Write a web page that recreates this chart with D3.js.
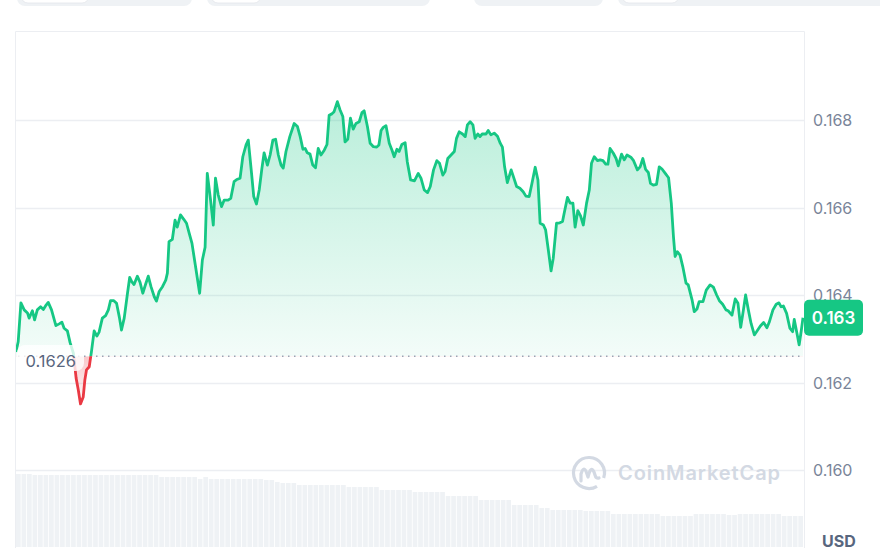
<!DOCTYPE html>
<html>
<head>
    <title>Price chart</title>
    <style>
        html, body {
            margin: 0;
            padding: 0;
            background: #ffffff;
        }
        svg text {
            font-family: Inter, "Noto Sans", sans-serif;
        }
        .y-label {
            font-size: 16px;
            fill: #7a8599;
        }
    </style>
    <script src="https://d3js.org/d3.v7.min.js"></script>
</head>
<body>
    <svg id="chart" width="880" height="557"></svg>
<script>
// minutes since start of the 24h window
const times = [0,4,9,15,21,24,30,34,39,45,50,54,59,65,73,79,84,88,94,99,105,110,114,118,123,126,129,134,138,143,
    148,152,158,164,169,173,179,184,189,193,198,204,208,212,216,222,227,232,237,242,247,253,257,262,268,274,277,280,286,291,
    295,301,307,312,317,322,329,336,341,346,350,356,361,365,370,376,381,388,393,399,404,410,415,421,425,431,435,440,445,450,
    454,460,465,470,475,480,485,489,494,501,509,515,520,525,529,533,538,543,548,553,558,564,569,573,578,582,588,593,598,602,
    607,612,617,622,628,633,637,643,648,654,660,664,668,672,677,683,688,692,697,701,706,712,716,722,729,736,741,747,753,758,
    764,770,775,781,785,790,796,802,806,811,817,822,826,831,836,840,845,849,853,860,864,869,875,881,886,890,894,899,906,911,
    916,922,928,933,939,944,950,955,959,965,969,974,979,983,989,995,1000,1003,1009,1014,1019,1023,1028,1033,1038,1044,1049,1053,1058,1064,
    1069,1074,1079,1083,1087,1093,1098,1102,1108,1113,1118,1125,1130,1137,1142,1147,1152,1157,1161,1166,1172,1177,1182,1188,1194,1199,1203,1206,1210,1215,
    1220,1226,1230,1237,1241,1246,1250,1257,1263,1270,1276,1282,1287,1293,1299,1303,1310,1316,1321,1326,1331,1335,1340,1345,1351,1355,1362,1368,1374,1378,
    1385,1391,1396,1400,1404,1410,1416,1421,1424,1429,1433,1437,1440];

const prices = [0.16270,0.16293,0.16382,0.16366,0.16359,0.16347,0.16364,0.16343,0.16366,0.16373,0.16367,0.16375,0.16383,0.16366,0.16330,0.16334,0.16338,0.16324,0.16318,0.16291,
    0.16267,0.16210,0.16183,0.16151,0.16167,0.16206,0.16229,0.16236,0.16270,0.16318,0.16306,0.16315,0.16347,0.16353,0.16366,0.16387,0.16387,0.16381,0.16350,0.16320,
    0.16347,0.16404,0.16440,0.16430,0.16424,0.16443,0.16429,0.16404,0.16424,0.16443,0.16419,0.16396,0.16386,0.16408,0.16419,0.16434,0.16450,0.16522,0.16527,0.16571,
    0.16555,0.16583,0.16573,0.16564,0.16541,0.16518,0.16461,0.16404,0.16480,0.16509,0.16678,0.16617,0.16560,0.16667,0.16629,0.16602,0.16617,0.16617,0.16621,0.16659,
    0.16664,0.16667,0.16716,0.16743,0.16754,0.16678,0.16625,0.16608,0.16640,0.16690,0.16725,0.16697,0.16720,0.16754,0.16756,0.16720,0.16697,0.16690,0.16728,0.16762,
    0.16792,0.16785,0.16762,0.16733,0.16735,0.16725,0.16722,0.16697,0.16691,0.16735,0.16720,0.16731,0.16744,0.16811,0.16814,0.16819,0.16842,0.16823,0.16808,0.16750,
    0.16756,0.16804,0.16779,0.16792,0.16796,0.16817,0.16821,0.16785,0.16747,0.16739,0.16738,0.16743,0.16776,0.16783,0.16787,0.16747,0.16731,0.16716,0.16733,0.16728,
    0.16744,0.16748,0.16704,0.16663,0.16661,0.16678,0.16667,0.16640,0.16634,0.16648,0.16686,0.16707,0.16701,0.16674,0.16682,0.16712,0.16720,0.16728,0.16758,0.16773,
    0.16768,0.16762,0.16789,0.16796,0.16789,0.16758,0.16768,0.16762,0.16768,0.16768,0.16776,0.16766,0.16770,0.16763,0.16747,0.16738,0.16693,0.16657,0.16686,0.16667,
    0.16648,0.16644,0.16636,0.16626,0.16625,0.16655,0.16692,0.16663,0.16564,0.16560,0.16549,0.16503,0.16455,0.16484,0.16564,0.16565,0.16568,0.16587,0.16623,0.16610,
    0.16610,0.16555,0.16593,0.16581,0.16560,0.16610,0.16640,0.16701,0.16716,0.16707,0.16709,0.16707,0.16699,0.16699,0.16735,0.16724,0.16712,0.16695,0.16722,0.16709,
    0.16720,0.16715,0.16707,0.16686,0.16693,0.16712,0.16687,0.16680,0.16655,0.16651,0.16653,0.16693,0.16688,0.16678,0.16668,0.16610,0.16533,0.16488,0.16499,0.16491,
    0.16465,0.16427,0.16423,0.16389,0.16362,0.16368,0.16385,0.16385,0.16411,0.16423,0.16418,0.16400,0.16387,0.16379,0.16366,0.16364,0.16354,0.16391,0.16381,0.16326,
    0.16366,0.16400,0.16366,0.16335,0.16309,0.16316,0.16329,0.16337,0.16325,0.16337,0.16366,0.16379,0.16382,0.16373,0.16375,0.16358,0.16324,0.16316,0.16344,0.16312,
    0.16286,0.16320,0.16348];

// rolling volume, one value per 10 minutes (millions)
const volumeM = [73,73,73,72,72,72,72,72,72,72,72,72,72,72,72,72,72,72,72,72,72,72,72,72,72,72,
    70,70,70,70,70,70,70,68,70,68,68,68,68,68,68,68,68,68,68,67,67,65,64,64,64,
    62,62,62,62,62,62,62,62,62,60,60,60,60,60,60,57,57,57,57,57,57,55,55,55,55,55,55,
    51,51,51,51,51,51,47,47,47,47,47,47,42,42,42,42,42,39,39,37,37,37,37,37,37,
    36,36,36,36,36,33,33,33,33,33,33,33,33,33,31,31,31,31,31,31,33,33,33,33,33,33,
    32,32,33,33,33,33,33,33,33,33,31,31,31,31];

const yTicks = [0.160, 0.162, 0.164, 0.166, 0.168];
const basePrice = 0.1626;

const svg = d3.select("#chart");
const plot = { left: 16, right: 805, top: 32, bottom: 548, lineEnd: 803 };

// top tab pills (cut off by the viewport)
const pills = [[17, 175, 21, 68], [207, 223, 211, 50], [474, 129, null, 0], [618, 280, 622, 57]];
pills.forEach(p => {
    svg.append("rect").attr("x", p[0]).attr("y", -14).attr("width", p[1]).attr("height", 20)
        .attr("rx", 8).attr("fill", "#eff2f5");
    if (p[2] !== null) {
        svg.append("rect").attr("x", p[2]).attr("y", -14).attr("width", p[3]).attr("height", 17)
            .attr("rx", 7).attr("fill", "#ffffff").attr("stroke", "#e3e6eb").attr("stroke-width", 0.8);
    }
});

const x = d3.scaleLinear().domain([0, 1440]).range([plot.left, plot.lineEnd]);
const y = d3.scaleLinear().domain([0.160, 0.168]).range([470, 120]);
const vy = d3.scaleLinear().domain([0, 100]).range([547, 447]);
const vx = d3.scaleBand().domain(volumeM.map((d, i) => i)).range([plot.left, plot.lineEnd]).paddingInner(0.15);

const baseY = y(basePrice);
const data = times.map((t, i) => ({ t: t, p: prices[i] }));

const defs = svg.append("defs");
defs.append("clipPath").attr("id", "above").append("rect")
    .attr("x", plot.left).attr("y", plot.top).attr("width", plot.right - plot.left).attr("height", baseY - plot.top);
defs.append("clipPath").attr("id", "below").append("rect")
    .attr("x", plot.left).attr("y", baseY).attr("width", plot.right - plot.left).attr("height", plot.bottom - baseY);

const gUp = defs.append("linearGradient").attr("id", "gUp").attr("gradientUnits", "userSpaceOnUse")
    .attr("x1", 0).attr("x2", 0).attr("y1", y(d3.max(prices))).attr("y2", baseY);
gUp.append("stop").attr("offset", 0).attr("stop-color", "#16c784").attr("stop-opacity", 0.3);
gUp.append("stop").attr("offset", 1).attr("stop-color", "#16c784").attr("stop-opacity", 0.05);
const gDown = defs.append("linearGradient").attr("id", "gDown").attr("gradientUnits", "userSpaceOnUse")
    .attr("x1", 0).attr("x2", 0).attr("y1", baseY).attr("y2", y(d3.min(prices)));
gDown.append("stop").attr("offset", 0).attr("stop-color", "#ea3943").attr("stop-opacity", 0.28);
gDown.append("stop").attr("offset", 1).attr("stop-color", "#ea3943").attr("stop-opacity", 0.02);

// frame
svg.append("path")
    .attr("d", `M${plot.left - 0.5},${plot.bottom} V${plot.top - 0.5} H${plot.right - 0.5} V${plot.bottom}`)
    .attr("fill", "none").attr("stroke", "#eceef2").attr("stroke-width", 1);

// grid
svg.append("g").selectAll("line").data(yTicks).join("line")
    .attr("x1", plot.left).attr("x2", plot.right - 1)
    .attr("y1", d => Math.round(y(d)) + 0.5).attr("y2", d => Math.round(y(d)) + 0.5)
    .attr("stroke", "#eceef2").attr("stroke-width", 1.3);

// volume
svg.append("g").selectAll("rect").data(volumeM).join("rect")
    .attr("x", (d, i) => vx(i)).attr("width", vx.bandwidth())
    .attr("y", d => vy(d)).attr("height", d => vy(0) - vy(d))
    .attr("fill", "#eff2f5");

// watermark
const wm = svg.append("g").attr("fill", "none").attr("stroke", "#d3d9e3");
wm.append("path").attr("d", d3.arc()({ innerRadius: 15.5, outerRadius: 15.5, startAngle: 2.6, endAngle: 2 * Math.PI + 1.9 }))
    .attr("transform", "translate(589,473)").attr("stroke-width", 3.2);
wm.append("path").attr("d", "M581,481 L581,474 Q584,464 587,474 L588,477 Q591,465 594,472 L595,475 Q596,479 599,478")
    .attr("stroke-width", 3.2).attr("stroke-linecap", "round").attr("stroke-linejoin", "round");
svg.append("text").attr("x", 618).attr("y", 480).attr("font-size", 20).attr("font-weight", 600)
    .attr("textLength", 162).attr("fill", "#d3d9e3").text("CoinMarketCap");

// areas and lines
const area = d3.area().x(d => x(d.t)).y0(baseY).y1(d => y(d.p));
const line = d3.line().x(d => x(d.t)).y(d => y(d.p));

svg.append("path").datum(data).attr("d", area).attr("fill", "url(#gUp)").attr("clip-path", "url(#above)");
svg.append("path").datum(data).attr("d", area).attr("fill", "url(#gDown)").attr("clip-path", "url(#below)");

svg.append("line").attr("x1", plot.left + 2).attr("x2", plot.right - 1)
    .attr("y1", baseY).attr("y2", baseY)
    .attr("stroke", "#9aa3b3").attr("stroke-width", 1.4).attr("stroke-dasharray", "1.5,4.5");

svg.append("path").datum(data).attr("d", line).attr("fill", "none")
    .attr("stroke", "#16c784").attr("stroke-width", 2.8).attr("stroke-linejoin", "round")
    .attr("clip-path", "url(#above)");
svg.append("path").datum(data).attr("d", line).attr("fill", "none")
    .attr("stroke", "#ea3943").attr("stroke-width", 2.8).attr("stroke-linejoin", "round")
    .attr("clip-path", "url(#below)");

// base price label
svg.append("rect").attr("x", 17).attr("y", 345).attr("width", 67).attr("height", 26).attr("rx", 8)
    .attr("fill", "#ffffff").attr("fill-opacity", 0.8);
svg.append("text").attr("x", 25.5).attr("y", 366.5).attr("font-size", 16.5).attr("fill", "#58667e")
    .text(d3.format(".4f")(basePrice));

// y axis labels
svg.append("g").selectAll("text").data(yTicks).join("text")
    .attr("class", "y-label").attr("x", 813).attr("y", d => y(d) + 6)
    .text(d => d3.format(".3f")(d));

// current price tag
const last = prices[prices.length - 1];
svg.append("rect").attr("x", 804).attr("y", y(last) - 18).attr("width", 59).attr("height", 36).attr("rx", 5)
    .attr("fill", "#16c784");
svg.append("text").attr("x", 833.5).attr("y", y(last) + 6.5).attr("text-anchor", "middle")
    .attr("font-size", 17).attr("font-weight", 600).attr("fill", "#ffffff")
    .text(d3.format(".3f")(last));

svg.append("text").attr("x", 822).attr("y", 546.5).attr("font-size", 16).attr("font-weight", 700)
    .attr("fill", "#58667e").text("USD");
</script>
</body>
</html>
